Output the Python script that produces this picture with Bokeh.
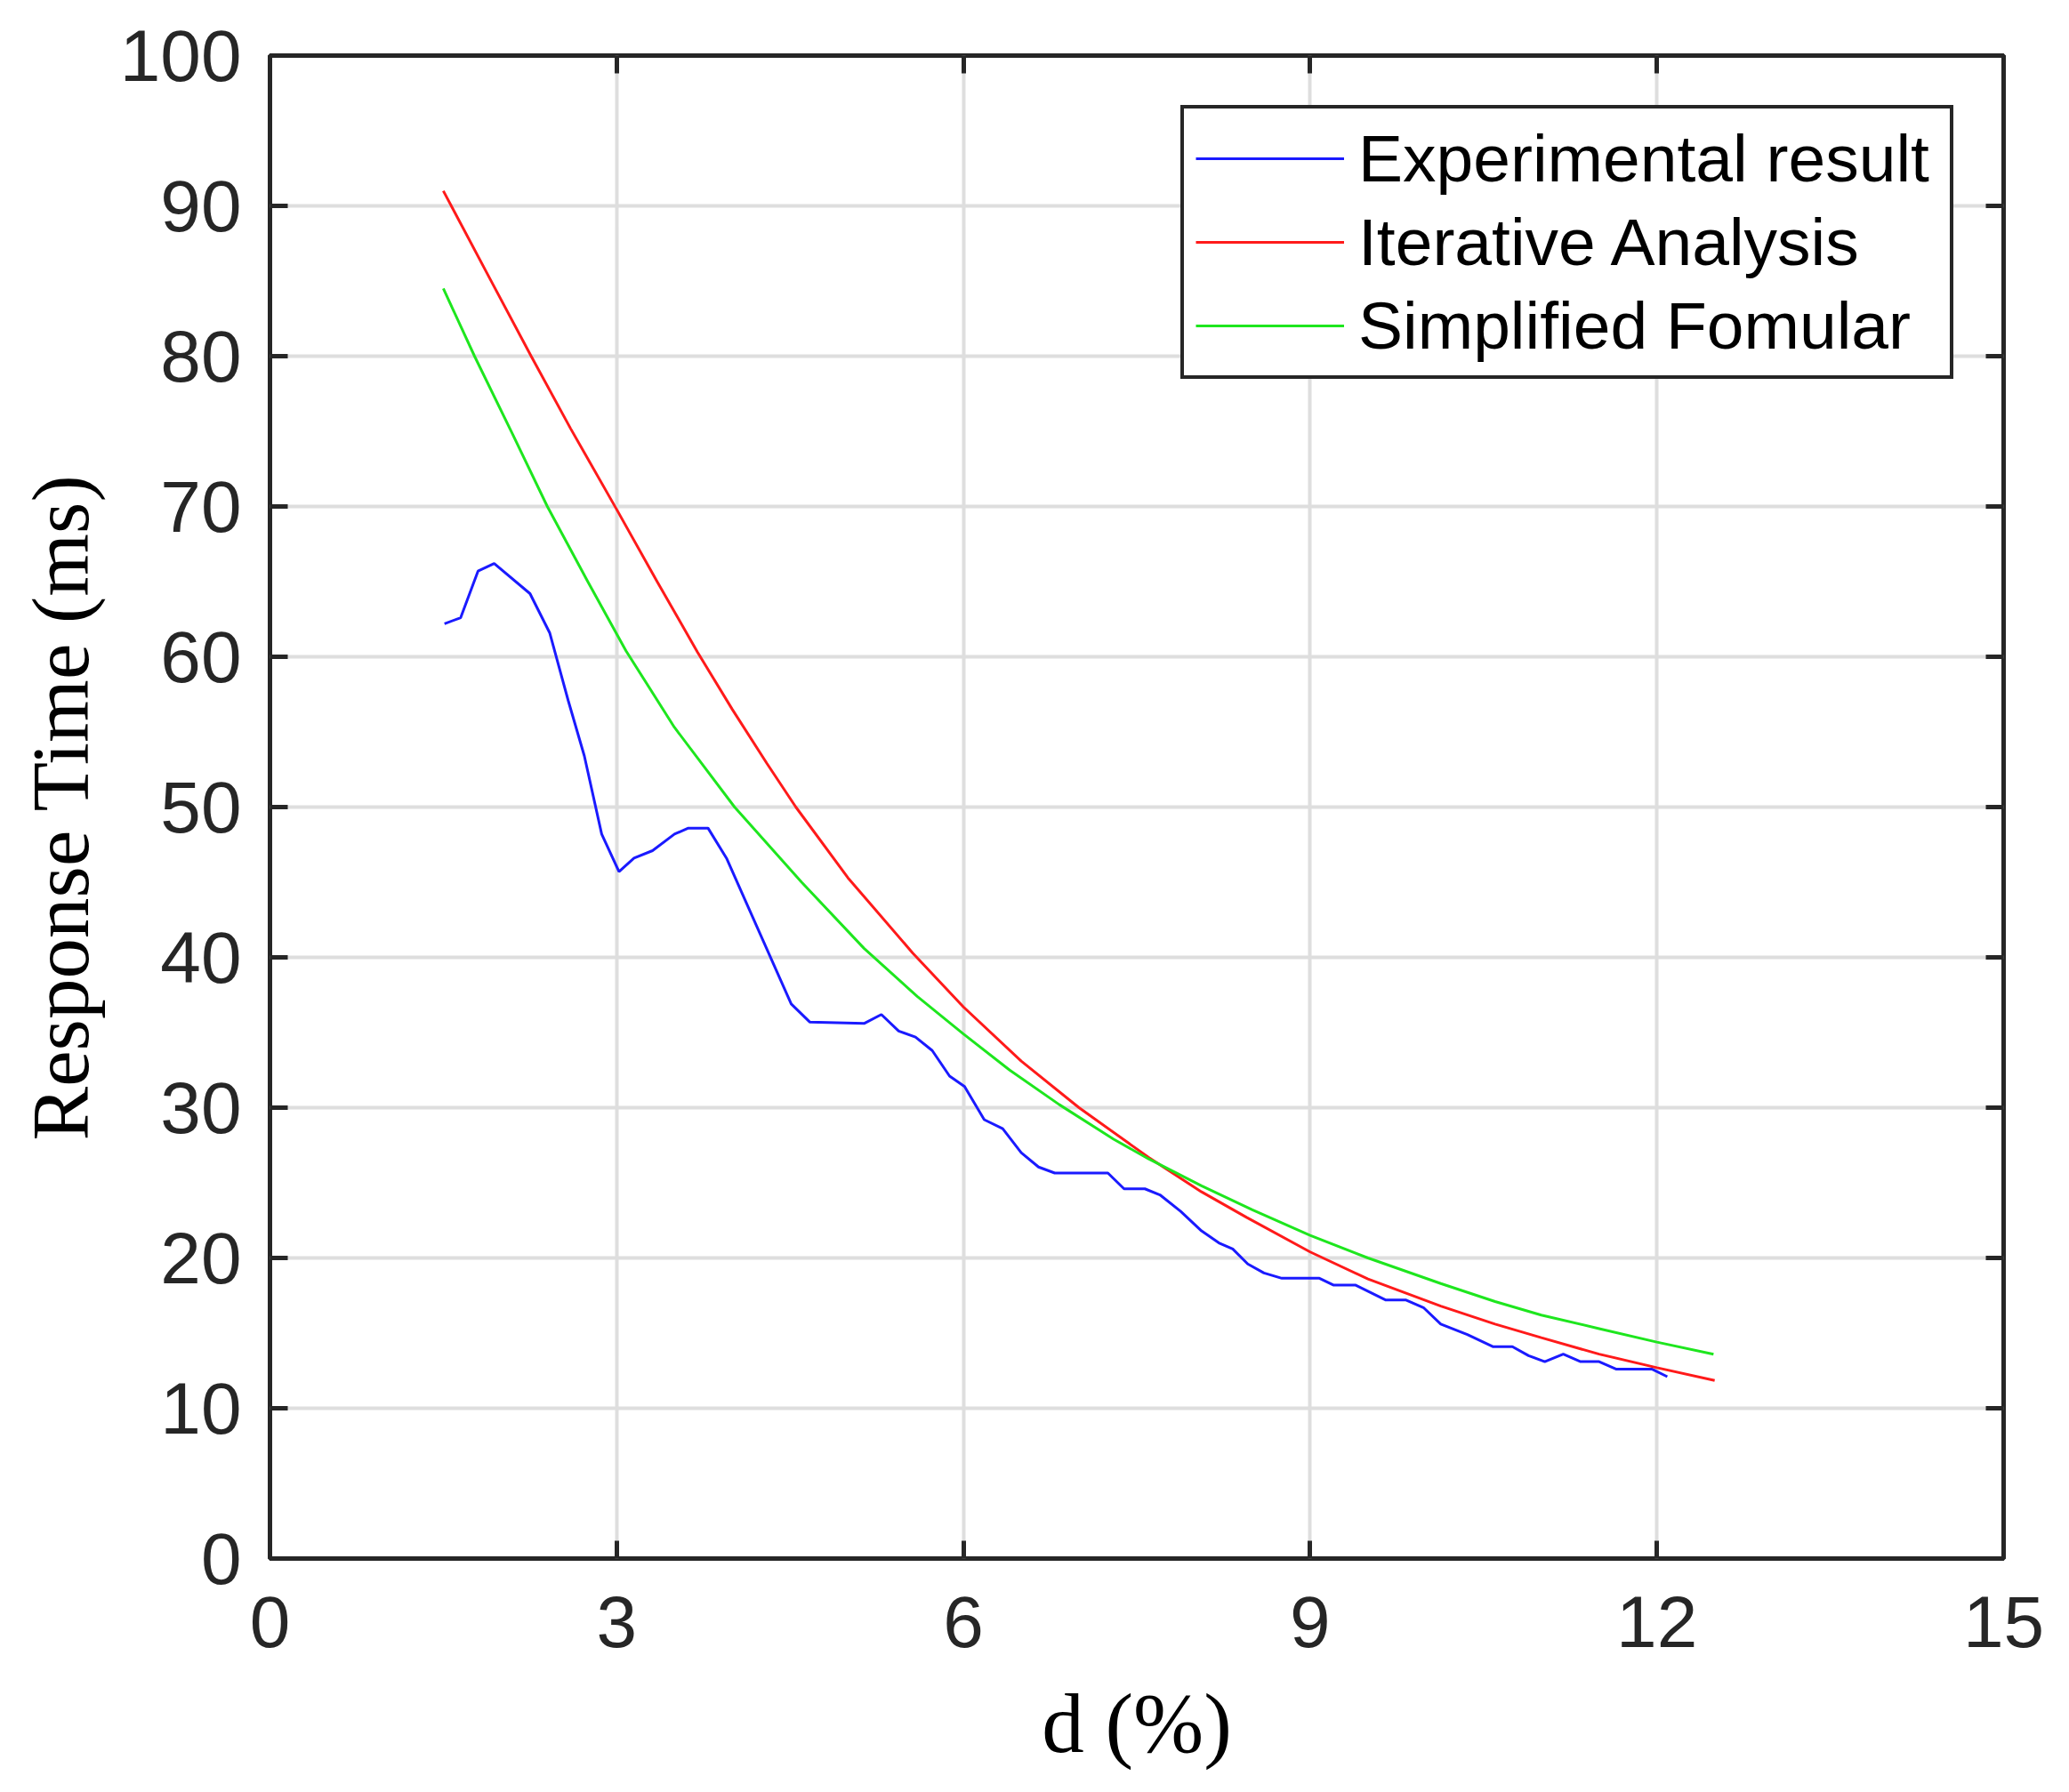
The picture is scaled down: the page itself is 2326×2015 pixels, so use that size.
from bokeh.plotting import figure
from bokeh.models import Range1d, FixedTicker, LinearAxis, Legend, LegendItem
from bokeh.embed import file_html
from bokeh.resources import INLINE

# ---- data ----
exp_x = [1.51, 1.65, 1.80, 1.94, 2.25, 2.42, 2.58, 2.72, 2.87, 3.02,
         3.15, 3.31, 3.50, 3.62, 3.79, 3.95, 4.51, 4.67, 5.14, 5.29,
         5.44, 5.585, 5.73, 5.88, 6.01, 6.18, 6.34, 6.50, 6.65, 6.79,
         7.25, 7.39, 7.57, 7.70, 7.88, 8.06, 8.21, 8.33, 8.46, 8.60,
         8.755, 9.08, 9.20, 9.39, 9.655, 9.83, 9.98, 10.13, 10.36, 10.58,
         10.75, 10.89, 11.03, 11.19, 11.34, 11.50, 11.65, 11.96, 12.09]
exp_y = [62.2, 62.6, 65.7, 66.2, 64.2, 61.6, 57.1, 53.4, 48.2, 45.7,
         46.6, 47.1, 48.2, 48.6, 48.6, 46.6, 36.9, 35.7, 35.6, 36.2,
         35.1, 34.7, 33.8, 32.1, 31.4, 29.2, 28.6, 27.0, 26.05, 25.65,
         25.65, 24.6, 24.6, 24.2, 23.1, 21.8, 21.0, 20.6, 19.6, 19.0,
         18.65, 18.65, 18.2, 18.2, 17.2, 17.2, 16.7, 15.6, 14.9, 14.1,
         14.1, 13.5, 13.1, 13.6, 13.1, 13.1, 12.6, 12.6, 12.1]

iter_x = [1.5, 1.9, 2.26, 2.6, 3.0, 3.35, 3.7, 4.0, 4.3, 4.55, 5.0, 5.56,
          6.0, 6.5, 7.0, 7.6, 8.06, 8.45, 9.0, 9.5, 10.13, 10.6, 11.0, 11.5,
          12.0, 12.5]
iter_y = [91.0, 85.2, 80.0, 75.2, 69.8, 65.0, 60.3, 56.5, 52.9, 50.0, 45.3, 40.3,
          36.7, 33.1, 30.0, 26.7, 24.4, 22.7, 20.4, 18.6, 16.8, 15.6, 14.7, 13.6,
          12.7, 11.85]

simp_x = [1.5, 1.77, 2.1, 2.4, 2.75, 3.08, 3.5, 4.02, 4.6, 5.14, 5.6, 6.0,
          6.4, 6.83, 7.3, 7.6, 8.06, 8.5, 9.0, 9.5, 10.13, 10.6, 11.0, 11.5,
          12.0, 12.49]
simp_y = [84.5, 80.0, 74.8, 70.0, 65.0, 60.4, 55.3, 50.0, 45.0, 40.6, 37.4, 34.9,
          32.5, 30.2, 27.9, 26.6, 24.8, 23.2, 21.5, 20.0, 18.3, 17.1, 16.2, 15.3,
          14.4, 13.6]

x_ticks = [0, 3, 6, 9, 12, 15]
y_ticks = [0, 10, 20, 30, 40, 50, 60, 70, 80, 90, 100]
series_labels = ["Experimental result", "Iterative Analysis", "Simplified Fomular"]
x_label = "d (%)"
y_label = "Response Time (ms)"

AX = "#262626"
TICK_FONT = "Liberation Sans"

p = figure(width=2318, height=2007,
           x_range=Range1d(0, 15), y_range=Range1d(0, 100),
           output_backend="svg", toolbar_location=None,
           min_border_left=303, min_border_right=66,
           min_border_top=62, min_border_bottom=255,
           background_fill_color="white", border_fill_color="white")

p.outline_line_color = AX
p.outline_line_width = 5
p.outline_line_alpha = 1.0

def style_axis(ax, ticks, show_labels):
    ax.ticker = FixedTicker(ticks=ticks)
    ax.axis_line_color = None
    ax.major_tick_in = 20
    ax.major_tick_out = 0
    ax.major_tick_line_color = AX
    ax.major_tick_line_width = 5
    ax.minor_tick_line_color = None
    if show_labels:
        ax.major_label_text_font = TICK_FONT
        ax.major_label_text_font_size = "82px"
        ax.major_label_text_color = AX
    else:
        ax.major_label_text_font_size = "0px"
        ax.major_label_text_color = None
        ax.major_label_standoff = 0

style_axis(p.xaxis[0], x_ticks, True)
style_axis(p.yaxis[0], y_ticks, True)
p.xaxis[0].major_label_standoff = 42
p.yaxis[0].major_label_standoff = 32

p.yaxis[0].axis_label = y_label
p.yaxis[0].axis_label_text_font = "Liberation Serif"
p.yaxis[0].axis_label_text_font_style = "normal"
p.yaxis[0].axis_label_text_font_size = "91px"
p.yaxis[0].axis_label_text_color = "black"
p.yaxis[0].axis_label_standoff = 13

p.xaxis[0].axis_label = x_label
p.xaxis[0].axis_label_text_font = "Liberation Serif"
p.xaxis[0].axis_label_text_font_style = "normal"
p.xaxis[0].axis_label_text_font_size = "95px"
p.xaxis[0].axis_label_text_color = "black"
p.xaxis[0].axis_label_standoff = 30

top_ax = LinearAxis()
right_ax = LinearAxis()
style_axis(top_ax, x_ticks, False)
style_axis(right_ax, y_ticks, False)
p.add_layout(top_ax, "above")
p.add_layout(right_ax, "right")

p.xgrid.ticker = FixedTicker(ticks=x_ticks)
p.ygrid.ticker = FixedTicker(ticks=y_ticks)
for g in (p.xgrid, p.ygrid):
    g.grid_line_color = "#dedede"
    g.grid_line_width = 4

r1 = p.line(exp_x, exp_y, line_color="#1a1aff", line_width=3)
r2 = p.line(iter_x, iter_y, line_color="#ff1a1a", line_width=3)
r3 = p.line(simp_x, simp_y, line_color="#1ee61e", line_width=3)

legend = Legend(items=[LegendItem(label=series_labels[0], renderers=[r1]),
                       LegendItem(label=series_labels[1], renderers=[r2]),
                       LegendItem(label=series_labels[2], renderers=[r3])],
                location="top_right", margin=56,
                label_text_font=TICK_FONT, label_text_font_size="75px",
                label_text_color="black",
                glyph_width=167, glyph_height=80, label_height=80,
                label_width=652,
                label_standoff=16, spacing=8, padding=13,
                border_line_color=AX, border_line_width=4, border_line_alpha=1.0,
                background_fill_color="white", background_fill_alpha=1.0)
p.add_layout(legend)

open("out.html", "w").write(file_html(p, INLINE))
